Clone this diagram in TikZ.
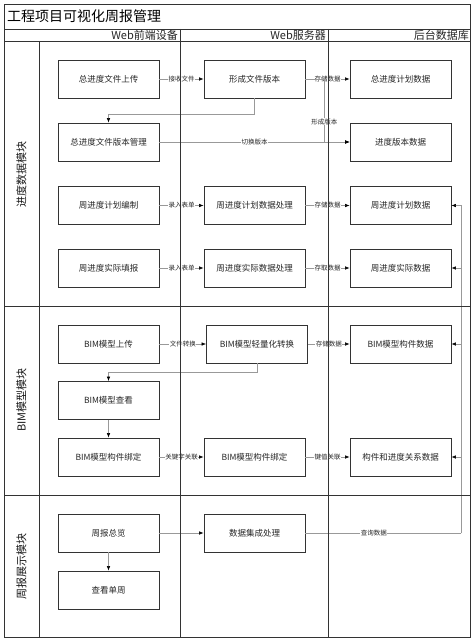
\documentclass[tikz,border=0pt]{standalone}
\usepackage{fontspec}
\setmainfont{Noto Sans CJK SC}
\usetikzlibrary{arrows.meta}
\begin{document}
\begin{tikzpicture}[x=1pt,y=-1pt,
 box/.style={draw=black!80, line width=0.8pt, minimum width=101pt, minimum height=38pt, inner sep=0pt, font=\fontsize{8.5}{10}\selectfont, text=black!85},
 conn/.style={draw=black!40, line width=0.6pt, -{Latex[length=4.5pt,width=3.5pt,color=black]}},
 cline/.style={draw=black!40, line width=0.6pt},
 lbl/.style={font=\fontsize{6.5}{7}\selectfont, fill=white, inner sep=0.4pt, text=black!85},
 lane/.style={draw=black!80, line width=0.8pt},
 hdr/.style={font=\fontsize{11}{12}\selectfont, anchor=east, inner sep=1pt, text=black!85},
 lanetxt/.style={font=\fontsize{11}{12}\selectfont, rotate=90, text=black!90}
]
\useasboundingbox (0,0) rectangle (474,642);

% title and headers
\node[anchor=west, font=\fontsize{14}{16}\selectfont, inner sep=0pt] (title) at (7,16.5) {工程项目可视化周报管理};
\node[hdr] (h1) at (179,35) {Web前端设备};
\node[hdr] (h2) at (327,35) {Web服务器};
\node[hdr] (h3) at (470,35) {后台数据库};

% lane labels
\node[lanetxt] (l1) at (21.5,174) {进度数据模块};
\node[lanetxt] (l2) at (21.5,400) {BIM模型模块};
\node[lanetxt] (l3) at (21.5,566) {周报展示模块};

% boxes lane 1
\node[box] (zjsc) at (108.5,79) {总进度文件上传};
\node[box] (xcbb) at (254.5,79) {形成文件版本};
\node[box] (zjjh) at (400.5,79) {总进度计划数据};
\node[box] (zjgl) at (108.5,142) {总进度文件版本管理};
\node[box] (jdbb) at (400.5,142) {进度版本数据};
\node[box] (zbz) at (108.5,205.5) {周进度计划编制};
\node[box] (zjcl) at (254.5,205.5) {周进度计划数据处理};
\node[box] (zjsj) at (400.5,205.5) {周进度计划数据};
\node[box] (zst) at (108.5,268) {周进度实际填报};
\node[box] (zscl) at (254.5,268) {周进度实际数据处理};
\node[box] (zssj) at (400.5,268) {周进度实际数据};

% boxes lane 2
\node[box] (bsc) at (108.5,344) {BIM模型上传};
\node[box] (bqh) at (257,344) {BIM模型轻量化转换};
\node[box] (bgj) at (400.5,344) {BIM模型构件数据};
\node[box] (bck) at (108.5,400.5) {BIM模型查看};
\node[box] (bbd) at (108.5,457) {BIM模型构件绑定};
\node[box] (bbd2) at (254.5,457) {BIM模型构件绑定};
\node[box] (gjgx) at (400.5,457) {构件和进度关系数据};

% boxes lane 3
\node[box] (zbzl) at (108.5,533) {周报总览};
\node[box] (ckdz) at (108.5,590) {查看单周};
\node[box] (sjjc) at (254.5,533) {数据集成处理};

% connectors lane 1
\draw[conn] (zjsc.east) -- node[lbl]{接收文件} (xcbb.west);
\draw[conn] (xcbb.east) -- node[lbl]{存储数据} (zjjh.west);
\draw[conn] (xcbb.east) -- ++(19,0) |- node[lbl,pos=0.34]{形成版本} (jdbb.west);
\draw[conn] (xcbb.south) -- ++(0,16) -| (zjgl.north);
\draw[conn] (zjgl.east) -- node[lbl]{切换版本} (jdbb.west);
\draw[conn] (zbz.east) -- node[lbl]{录入表单} (zjcl.west);
\draw[conn] (zjcl.east) -- node[lbl]{存储数据} (zjsj.west);
\draw[conn] (zst.east) -- node[lbl]{录入表单} (zscl.west);
\draw[conn] (zscl.east) -- node[lbl]{存取数据} (zssj.west);

% connectors lane 2
\draw[conn] (bsc.east) -- node[lbl]{文件转换} (bqh.west);
\draw[conn] (bqh.east) -- node[lbl]{存储数据} (bgj.west);
\draw[conn] (bqh.south) -- ++(0,9) -| (bck.north);
\draw[conn] (bck.south) -- (bbd.north);
\draw[conn] (bbd.east) -- node[lbl]{关键字关联} (bbd2.west);
\draw[conn] (bbd2.east) -- node[lbl]{键值关联} (gjgx.west);

% connectors lane 3
\draw[conn] (zbzl.south) -- (ckdz.north);
\draw[conn] (zbzl.east) -- (sjjc.west);
\coordinate (q) at (461,533);
\draw[cline] (sjjc.east) -- node[lbl,pos=0.44]{查询数据} (q);
\draw[conn] (q) |- (zjsj.east);
\draw[conn] (q) |- (zssj.east);
\draw[conn] (q) |- (bgj.east);
\draw[conn] (q) |- (gjgx.east);

% pool frame and lanes
\draw[lane] (4,4) rectangle (470,637);
\draw[lane] (4,29) -- (470,29);
\draw[lane] (4,41) -- (470,41);
\draw[lane] (180,29) -- (180,637);
\draw[lane] (328,29) -- (328,637);
\draw[lane] (39,41) -- (39,637);
\draw[lane] (4,306) -- (470,306);
\draw[lane] (4,495) -- (470,495);
\end{tikzpicture}
\end{document}
